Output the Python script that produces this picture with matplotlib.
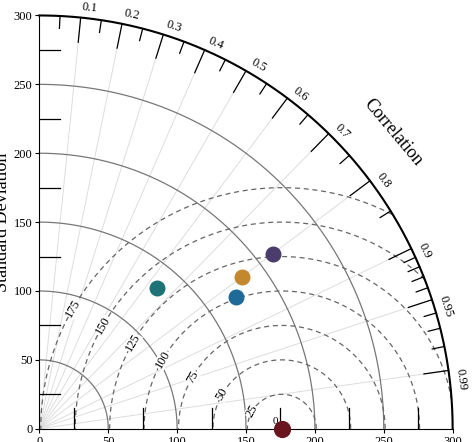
import numpy as np
import matplotlib
import matplotlib.pyplot as plt

matplotlib.rcParams["font.family"] = ["Liberation Serif", "DejaVu Serif"]

REF_STD = 176
NAMES = ["A", "B", "C", "D"]
STD = [212.0, 184.0, 172.0, 133.0]
CORR = [0.80, 0.80, 0.83, 0.64]
COLORS = ["#4b3d6b", "#c3872e", "#1f6a98", "#1e7376"]
REF_COLOR = "#6a1420"
CORR_MAJOR = [0.1, 0.2, 0.3, 0.4, 0.5, 0.6, 0.7, 0.8, 0.9, 0.95, 0.99]
CORR_MINOR = [0.05, 0.15, 0.25, 0.35, 0.45, 0.55, 0.65, 0.75, 0.85,
              0.91, 0.92, 0.93, 0.94, 0.96, 0.97, 0.98]
STD_RINGS = [50, 100, 150, 200, 250]
RMS_RINGS = [25, 50, 75, 100, 125, 150, 175]
RMAX = 300

fig = plt.figure(figsize=(4.74, 4.42), dpi=100)
ax = fig.add_axes([0.081, 0.03, 0.876, 0.935])
ax.set_xlim(0, RMAX)
ax.set_ylim(0, RMAX)
ax.set_aspect("equal")
ax.spines["top"].set_visible(False)
ax.spines["right"].set_visible(False)

th = np.linspace(0, np.pi / 2, 400)
# std rings
for r in STD_RINGS:
    ax.plot(r * np.cos(th), r * np.sin(th), color="#777777", lw=0.9, zorder=1)
ax.plot(RMAX * np.cos(th), RMAX * np.sin(th), color="black", lw=1.5, zorder=3, clip_on=False)

# correlation lines and arc ticks
for c in CORR_MAJOR:
    a = np.arccos(c)
    ax.plot([0, RMAX * np.cos(a)], [0, RMAX * np.sin(a)], color="#dddddd", lw=0.7, zorder=0)
    ax.plot([(RMAX - 18) * np.cos(a), RMAX * np.cos(a)],
            [(RMAX - 18) * np.sin(a), RMAX * np.sin(a)], color="black", lw=0.9, clip_on=False)
    ax.text((RMAX + 8) * np.cos(a), (RMAX + 8) * np.sin(a), f"{c:g}",
            rotation=np.degrees(a) - 90, rotation_mode="anchor",
            ha="left", va="center", fontsize=9)
for c in CORR_MINOR:
    a = np.arccos(c)
    ax.plot([(RMAX - 9) * np.cos(a), RMAX * np.cos(a)],
            [(RMAX - 9) * np.sin(a), RMAX * np.sin(a)], color="black", lw=0.9, clip_on=False)
ax.text(335 * np.cos(np.radians(40)), 335 * np.sin(np.radians(40)), "Correlation",
        rotation=-50, ha="center", va="center", fontsize=13)

# rms rings
for r in RMS_RINGS:
    t = np.linspace(0, np.pi, 600)
    x = REF_STD + r * np.cos(t)
    y = r * np.sin(t)
    m = np.hypot(x, y) <= RMAX
    x = np.where(m, x, np.nan)
    ax.plot(x, y, color="#666666", lw=0.9, ls=(0, (4, 3)), zorder=1)
    la = np.radians(150)
    ax.text(REF_STD + r * np.cos(la), r * np.sin(la), str(r), rotation=60,
            ha="center", va="center", fontsize=9,
            bbox=dict(fc="white", ec="none", pad=0.3), zorder=2)
ax.text(REF_STD - 5, 2, "0", fontsize=8, ha="center", va="bottom")

# ticks
ax.set_xticks(range(0, 301, 50))
ax.set_yticks(range(0, 301, 50))
ax.tick_params(labelsize=9, length=3, pad=2)
for v in [25, 75, 125, 175, 225, 275]:
    ax.plot([v, v], [0, 15], color="black", lw=0.9)
    ax.plot([0, 15], [v, v], color="black", lw=0.9)
ax.set_ylabel("Standard Deviation", fontsize=13, labelpad=2)

# points
for s, c, col in zip(STD, CORR, COLORS):
    a = np.arccos(c)
    ax.scatter(s * np.cos(a), s * np.sin(a), s=110, color=col, zorder=5)
ax.scatter(REF_STD, 0, s=130, color=REF_COLOR, zorder=6, clip_on=False)

fig.savefig("out.png", dpi=100)
